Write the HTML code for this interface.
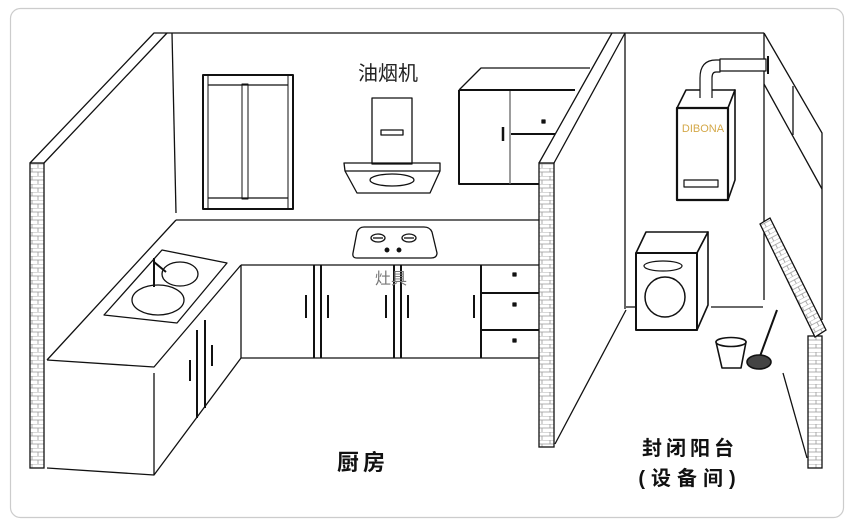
<!DOCTYPE html>
<html><head><meta charset="utf-8"><style>
html,body{margin:0;padding:0;background:#fff;}
svg{display:block;}
text{font-family:"Liberation Sans","Noto Sans CJK SC",sans-serif;}
</style></head><body>
<svg width="854" height="529" viewBox="0 0 854 529" xmlns="http://www.w3.org/2000/svg">
<defs>
<pattern id="brick" width="14" height="8" patternUnits="userSpaceOnUse">
<rect width="14" height="8" fill="#fff"/>
<path d="M0 0H14M0 4H14M4 0V4M10 4V8" stroke="#999" stroke-width="0.8" fill="none"/>
</pattern>
<pattern id="brick2" width="14" height="8" patternUnits="userSpaceOnUse" patternTransform="rotate(-28)">
<rect width="14" height="8" fill="#fff"/>
<path d="M0 0H14M0 4H14M4 0V4M10 4V8" stroke="#999" stroke-width="0.8" fill="none"/>
</pattern>
</defs>
<rect x="10.5" y="8.5" width="833" height="509" rx="10" fill="#fff" stroke="#ccc" stroke-width="1.2"/>
<g stroke="#111" stroke-width="1.3" fill="none" stroke-linejoin="round">
<!-- left wall -->
<path d="M30 163 L154 33 L167 33 L44 163"/>
<line x1="167" y1="33" x2="764" y2="33"/>
<line x1="172" y1="33" x2="176" y2="213"/>
<line x1="176" y1="220" x2="540" y2="220"/>
<!-- window -->
<rect x="203" y="75" width="90" height="134" stroke-width="2"/>
<rect x="208" y="75" width="80" height="134" stroke-width="1"/>
<line x1="208" y1="85" x2="288" y2="85"/>
<line x1="208" y1="198" x2="288" y2="198"/>
<rect x="242" y="84" width="6" height="115" stroke-width="1"/>
<!-- hood -->
<rect x="372" y="98" width="40" height="66"/>
<rect x="381" y="130" width="22" height="5"/>
<path d="M344 163 H440 V171 L430 193 H357 L345 171 Z"/>
<line x1="345" y1="171" x2="440" y2="171"/>
<ellipse cx="392" cy="180" rx="22" ry="6"/>
<!-- upper cabinet -->
<path d="M459 90 L481 68 L590 68"/>
<path d="M459 90 V184 H540" stroke-width="2"/>
<line x1="459" y1="90" x2="575" y2="90" stroke-width="2"/>
<line x1="510" y1="91" x2="510" y2="184" stroke="#666"/>
<line x1="503" y1="127" x2="503" y2="141" stroke-width="2.5"/>
<line x1="511" y1="134" x2="555" y2="134" stroke-width="2"/>
<rect x="542" y="120" width="3" height="3" fill="#111"/>
<!-- stove -->
<path d="M364 227 H424 Q430 227 432 232 L437 253 Q437 258 431 258 H357 Q352 258 353 253 L357 232 Q359 227 364 227 Z"/>
<ellipse cx="378" cy="238" rx="7" ry="4"/><line x1="373" y1="238" x2="383" y2="238"/>
<ellipse cx="409" cy="238" rx="7" ry="4"/><line x1="404" y1="238" x2="414" y2="238"/>
<circle cx="387" cy="250" r="1.8" fill="#111"/><circle cx="399" cy="250" r="1.8" fill="#111"/>
<!-- lower cabinets -->
<path d="M241 265 H539 M241 358 H539 M241 265 V358"/>
<line x1="314" y1="265" x2="314" y2="358" stroke-width="2"/>
<line x1="321" y1="265" x2="321" y2="358" stroke-width="2"/>
<line x1="394" y1="265" x2="394" y2="358" stroke-width="2"/>
<line x1="401" y1="265" x2="401" y2="358" stroke-width="2"/>
<line x1="481" y1="265" x2="481" y2="358" stroke-width="2"/>
<line x1="306" y1="295" x2="306" y2="318" stroke-width="2"/>
<line x1="328" y1="295" x2="328" y2="318" stroke-width="2"/>
<line x1="386" y1="295" x2="386" y2="318" stroke-width="2"/>
<line x1="408" y1="295" x2="408" y2="318" stroke-width="2"/>
<line x1="474" y1="295" x2="474" y2="318" stroke-width="2"/>
<line x1="481" y1="293" x2="539" y2="293" stroke-width="2"/>
<line x1="481" y1="330" x2="539" y2="330" stroke-width="2"/>
<rect x="513" y="273" width="3" height="3" fill="#111"/>
<rect x="513" y="303" width="3" height="3" fill="#111"/>
<rect x="513" y="339" width="3" height="3" fill="#111"/>
<!-- left counter -->
<path d="M47 360 L176 220 M47 360 L154 367 L241 265"/>
<path d="M154 373 V475 L47 468 M154 475 L241 358"/>
<path d="M104 315 L162 250 L227 263 L177 323 Z"/>
<ellipse cx="180" cy="274" rx="18" ry="12"/>
<ellipse cx="158" cy="300" rx="26" ry="15"/>
<path d="M154 258 V287 M154 262 L166 272" stroke-width="2"/>
<line x1="197" y1="330" x2="197" y2="418" stroke-width="2"/>
<line x1="205" y1="320" x2="205" y2="408" stroke-width="2"/>
<line x1="190" y1="360" x2="190" y2="381" stroke-width="2"/>
<line x1="212" y1="345" x2="212" y2="366" stroke-width="2"/>
<!-- middle partition -->
<path d="M539 163 L612 33 M554 163 L625 33"/>
<line x1="625" y1="33" x2="625" y2="309"/>
<line x1="626" y1="310" x2="555" y2="444"/>
<line x1="626" y1="307" x2="636" y2="307"/>
<line x1="711" y1="307" x2="763" y2="307"/>
<!-- right side -->
<line x1="764" y1="33" x2="764" y2="300"/>
<path d="M764 33 L822 133 V320"/>
<path d="M764 84 L822 189"/>
<line x1="793" y1="86" x2="793" y2="135"/>
<line x1="783" y1="373" x2="807" y2="458"/>
</g>
<!-- bricks -->
<rect x="30" y="163" width="14" height="305" fill="url(#brick)" stroke="#111" stroke-width="1.3"/>
<rect x="539" y="163" width="15" height="284" fill="url(#brick)" stroke="#111" stroke-width="1.3"/>
<rect x="808" y="336" width="14" height="132" fill="url(#brick)" stroke="#111" stroke-width="1.3"/>
<polygon points="760,224 770,218 826,330 815,337" fill="url(#brick2)" stroke="#111" stroke-width="1.3"/>
<g stroke="#111" stroke-width="1.6" fill="#fff" stroke-linejoin="round">
<!-- water heater -->
<path d="M677 108 L686 90 H735 L728 108 Z"/>
<path d="M728 108 L735 90 V180 L728 200 Z"/>
<rect x="677" y="108" width="51" height="92" stroke-width="2.2"/>
<rect x="684" y="180" width="34" height="7" stroke-width="1.2"/>
<path d="M700 98 V78 Q700 60 716 60 H720 V72 H716 Q712 72 712 78 V98" stroke-width="1.2"/>
<rect x="720" y="59" width="46" height="12" stroke-width="1.2"/>
<line x1="768" y1="56" x2="768" y2="74" stroke-width="2"/>
<!-- washer -->
<path d="M636 253 L646 232 H708 L697 253 Z"/>
<path d="M697 253 L708 232 V305 L697 330 Z"/>
<rect x="636" y="253" width="61" height="77" stroke-width="2"/>
<ellipse cx="663" cy="266" rx="19" ry="5" stroke-width="1.2"/>
<circle cx="665" cy="297" r="20" stroke-width="1.5"/>
<!-- bucket -->
<path d="M716 342 L722 368 H741 L746 342 Z"/>
<ellipse cx="731" cy="342" rx="15" ry="4.5"/>
<line x1="777" y1="310" x2="759" y2="359" stroke-width="2"/>
<ellipse cx="759" cy="362" rx="12" ry="7" fill="#444"/>
</g>
<text x="703" y="132" font-size="11" fill="#d4a94a" text-anchor="middle">DIBONA</text>
<text x="388" y="80" font-size="20" fill="#222" text-anchor="middle">油烟机</text>
<text x="391" y="284" font-size="16" fill="#777" text-anchor="middle">灶具</text>
<text x="363" y="470" font-size="22" font-weight="bold" fill="#111" text-anchor="middle" letter-spacing="4">厨房</text>
<text x="690" y="455" font-size="20" font-weight="bold" fill="#111" text-anchor="middle" letter-spacing="4">封闭阳台</text>
<text x="690" y="485" font-size="20" font-weight="bold" fill="#111" text-anchor="middle" letter-spacing="6">(设备间)</text>
</svg>
</body></html>
